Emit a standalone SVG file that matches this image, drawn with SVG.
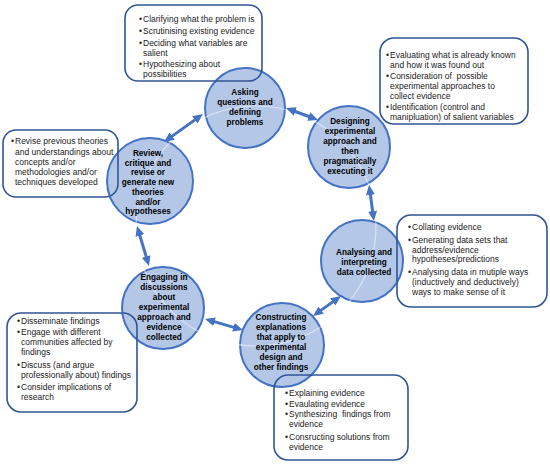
<svg xmlns="http://www.w3.org/2000/svg" width="550" height="466" viewBox="0 0 550 466">
<defs>
<style>
.c{fill:#b4c7e7;stroke:#4472c4;stroke-width:2}
.b{fill:none;stroke:#2f5597;stroke-width:1.6}
.ct{font-family:"Liberation Sans",Arial,sans-serif;font-size:8.2px;font-weight:bold;fill:#000;text-anchor:middle}
.bt{font-family:"Liberation Sans",Arial,sans-serif;font-size:8.5px;fill:#222}
.a{stroke:#4472c4;stroke-width:3;fill:none;marker-start:url(#ah);marker-end:url(#ah)}
.ring{fill:none;stroke:#ffffff;stroke-opacity:0.5;stroke-width:1.2}
</style>
<marker id="ah" viewBox="0 0 10 9" refX="3" refY="4.5" markerWidth="10" markerHeight="9" markerUnits="userSpaceOnUse" orient="auto-start-reverse">
<path d="M0,0 L10,4.5 L0,9 z" fill="#4472c4"/>
</marker>
</defs>
<rect width="550" height="466" fill="#fff"/>

<g id="circles">
<circle class="c" cx="245" cy="108" r="40"/>
<circle class="c" cx="349" cy="147" r="41"/>
<circle class="c" cx="362" cy="261" r="41"/>
<circle class="c" cx="282" cy="345" r="42"/>
<circle class="c" cx="163" cy="308" r="41"/>
<circle class="c" cx="150" cy="181" r="43"/>
</g>
<circle class="ring" cx="256" cy="226" r="120"/>

<g id="connectors">
<line class="a" x1="292.5" y1="110.5" x2="311.5" y2="117.5"/>
<line class="a" x1="370" y1="192" x2="373" y2="214"/>
<line class="a" x1="335.3" y1="300.1" x2="318.7" y2="311.9"/>
<line class="a" x1="211.7" y1="320.9" x2="236.3" y2="328.1"/>
<line class="a" x1="139" y1="232.7" x2="147" y2="259.3"/>
<line class="a" x1="169.7" y1="137.9" x2="197.3" y2="118.1"/>
</g>

<g id="node-asking">
<text class="ct" x="245"><tspan x="245" y="95">Asking</tspan><tspan x="245" y="105">questions and</tspan><tspan x="245" y="115">defining</tspan><tspan x="245" y="125">problems</tspan></text>
</g>
<g id="node-designing">
<text class="ct"><tspan x="350" y="124">Designing</tspan><tspan x="350" y="134">experimental</tspan><tspan x="350" y="144">approach and</tspan><tspan x="350" y="154">then</tspan><tspan x="350" y="164">pragmatically</tspan><tspan x="350" y="174">executing it</tspan></text>
</g>
<g id="node-analysing">
<text class="ct"><tspan x="364" y="255">Analysing and</tspan><tspan x="364" y="265">interpreting</tspan><tspan x="364" y="275">data collected</tspan></text>
</g>
<g id="node-constructing">
<text class="ct"><tspan x="281" y="320">Constructing</tspan><tspan x="281" y="330">explanations</tspan><tspan x="281" y="340">that apply to</tspan><tspan x="281" y="350">experimental</tspan><tspan x="281" y="360">design and</tspan><tspan x="281" y="370">other findings</tspan></text>
</g>
<g id="node-engaging">
<text class="ct"><tspan x="164" y="280">Engaging in</tspan><tspan x="164" y="290">discussions</tspan><tspan x="164" y="300">about</tspan><tspan x="164" y="310">experimental</tspan><tspan x="164" y="320">approach and</tspan><tspan x="164" y="330">evidence</tspan><tspan x="164" y="340">collected</tspan></text>
</g>
<g id="node-review">
<text class="ct"><tspan x="148" y="156">Review,</tspan><tspan x="148" y="165.7">critique and</tspan><tspan x="148" y="175.4">revise or</tspan><tspan x="148" y="185.1">generate new</tspan><tspan x="148" y="194.8">theories</tspan><tspan x="148" y="204.5">and/or</tspan><tspan x="148" y="214.2">hypotheses</tspan></text>
</g>

<g id="box-asking">
<rect class="b" x="125" y="5" width="137" height="76" rx="13"/>
<text class="bt"><tspan x="139" y="21.5">•</tspan><tspan x="143" y="21.5">Clarifying what the problem is</tspan><tspan x="139" y="34">•</tspan><tspan x="143" y="34">Scrutinising existing evidence</tspan><tspan x="139" y="45.5">•</tspan><tspan x="143" y="45.5">Deciding what variables are</tspan><tspan x="143" y="55.5">salient</tspan><tspan x="139" y="66.5">•</tspan><tspan x="143" y="66.5">Hypothesizing about</tspan><tspan x="143" y="76.5">possibilities</tspan></text>
</g>
<g id="box-designing">
<rect class="b" x="380" y="38" width="148" height="86" rx="14"/>
<text class="bt"><tspan x="386" y="58">•</tspan><tspan x="390" y="58">Evaluating what is already known</tspan><tspan x="390" y="68">and how it was found out</tspan><tspan x="386" y="78.5">•</tspan><tspan x="390" y="78.5">Consideration of&#160; possible</tspan><tspan x="390" y="88.5">experimental approaches to</tspan><tspan x="390" y="98.5">collect evidence</tspan><tspan x="386" y="109.5">•</tspan><tspan x="390" y="109.5">Identification (control and</tspan><tspan x="390" y="119.5">manipluation) of salient variables</tspan></text>
</g>
<g id="box-review">
<rect class="b" x="3" y="130" width="115" height="67" rx="13"/>
<text class="bt"><tspan x="11" y="144">•</tspan><tspan x="15" y="144">Revise previous theories</tspan><tspan x="15" y="154.5">and understandings about</tspan><tspan x="15" y="164.5">concepts and/or</tspan><tspan x="15" y="174.5">methodologies and/or</tspan><tspan x="15" y="184.5">techniques developed</tspan></text>
</g>
<g id="box-analysing">
<rect class="b" x="397" y="215" width="150" height="92" rx="14"/>
<text class="bt"><tspan x="408" y="230">•</tspan><tspan x="412" y="230">Collating evidence</tspan><tspan x="408" y="242.5">•</tspan><tspan x="412" y="242.5">Generating data sets that</tspan><tspan x="412" y="252.5">address/evidence</tspan><tspan x="412" y="262">hypotheses/predictions</tspan><tspan x="408" y="274.5">•</tspan><tspan x="412" y="274.5">Analysing data in mutiple ways</tspan><tspan x="412" y="284.5">(inductively and deductively)</tspan><tspan x="412" y="294.5">ways to make sense of it</tspan></text>
</g>
<g id="box-engaging">
<rect class="b" x="7" y="313" width="130" height="99" rx="14"/>
<text class="bt"><tspan x="17" y="324">•</tspan><tspan x="21" y="324">Disseminate findings</tspan><tspan x="17" y="335">•</tspan><tspan x="21" y="335">Engage with different</tspan><tspan x="21" y="345">communities affected by</tspan><tspan x="21" y="355">findings</tspan><tspan x="17" y="367.5">•</tspan><tspan x="21" y="367.5">Discuss (and argue</tspan><tspan x="21" y="377.5">professionally about) findings</tspan><tspan x="17" y="389.5">•</tspan><tspan x="21" y="389.5">Consider implications of</tspan><tspan x="21" y="399.5">research</tspan></text>
</g>
<g id="box-constructing">
<rect class="b" x="274" y="375" width="134" height="85" rx="14"/>
<text class="bt"><tspan x="285" y="396">•</tspan><tspan x="289" y="396">Explaining evidence</tspan><tspan x="285" y="406.5">•</tspan><tspan x="289" y="406.5">Evaulating evidence</tspan><tspan x="285" y="417">•</tspan><tspan x="289" y="417">Synthesizing&#160; findings from</tspan><tspan x="289" y="427">evidence</tspan><tspan x="285" y="439.5">•</tspan><tspan x="289" y="439.5">Consructing solutions from</tspan><tspan x="289" y="449.5">evidence</tspan></text>
</g>
</svg>
